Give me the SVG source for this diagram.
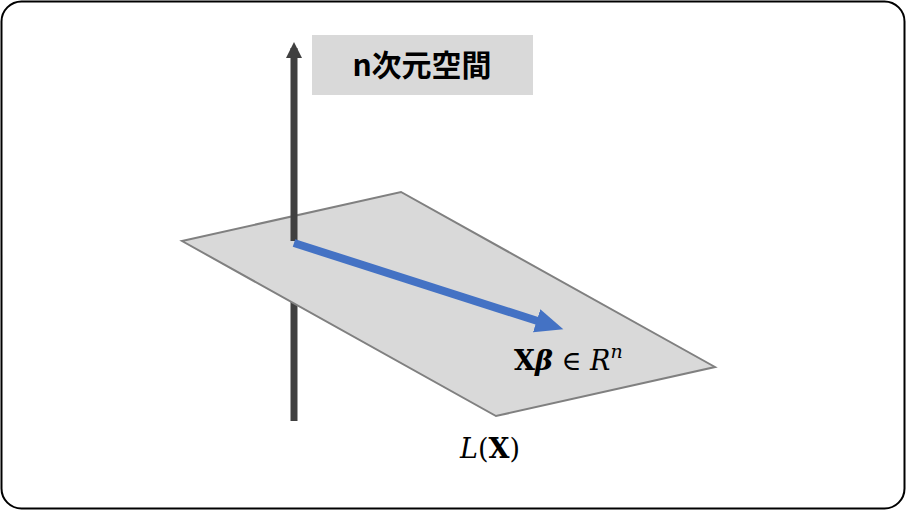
<svg xmlns="http://www.w3.org/2000/svg" width="906" height="510" viewBox="0 0 906 510">
<style>.m{font-family:"DejaVu Serif","Liberation Serif",serif;font-size:27px;fill:#000}</style>
<defs>
<marker id="ga" markerUnits="userSpaceOnUse" markerWidth="20" markerHeight="20" refX="10" refY="10" orient="auto"><path d="M0,2 L16,10 L0,18 Z" fill="#404040"/></marker>
<marker id="ba" markerUnits="userSpaceOnUse" markerWidth="30" markerHeight="30" refX="14" refY="15" orient="auto"><path d="M0,3 L28,15 L0,27 Z" fill="#4472C4"/></marker>
</defs>
<rect x="1.5" y="1.5" width="903" height="507" rx="20" fill="#fff" stroke="#000" stroke-width="2"/>
<g id="connectors">
<line x1="294" y1="300" x2="294" y2="421" stroke="#404040" stroke-width="7"/>
</g>
<g id="plane"><polygon points="182,241 401,192 715,367 496,416" fill="#D9D9D9" stroke="#808080" stroke-width="2"/></g>
<g id="axis"><line x1="294" y1="241" x2="294" y2="48" stroke="#404040" stroke-width="7" marker-end="url(#ga)"/></g>
<g id="vec"><line x1="294" y1="243" x2="550" y2="325" stroke="#4472C4" stroke-width="8" marker-end="url(#ba)"/></g>
<g id="label"><rect x="312" y="35" width="221" height="60" fill="#D9D9D9"/>
<text x="422" y="76" text-anchor="middle" font-family="Noto Sans CJK JP,sans-serif" font-weight="bold" font-size="30">n次元空間</text></g>
<text class="m" x="514" y="370"><tspan font-weight="bold">X</tspan><tspan font-weight="bold" font-style="italic">β</tspan> ∈ <tspan font-style="italic">R</tspan><tspan font-style="italic" font-size="19" dy="-12">n</tspan></text>
<text class="m" x="460" y="458"><tspan font-style="italic">L</tspan>(<tspan font-weight="bold">X</tspan>)</text>
</svg>
